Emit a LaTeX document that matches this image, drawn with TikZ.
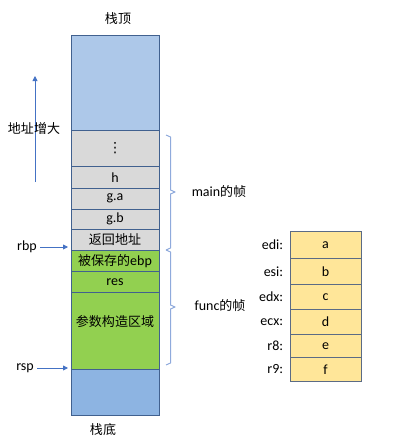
\documentclass[tikz,border=0pt]{standalone}
\usepackage{fontspec}
\setmainfont{Carlito}
\newfontfamily\cjk{Noto Sans CJK SC}[Scale=0.93]
\newfontfamily\symfont{DejaVu Sans}
\usetikzlibrary{arrows.meta}

\definecolor{stacktop}{HTML}{ADC8E9}
\definecolor{stackbottom}{HTML}{8DB4E2}
\definecolor{cellgray}{HTML}{D9D9D9}
\definecolor{cellgreen}{HTML}{92D050}
\definecolor{regyellow}{HTML}{FFE699}
\definecolor{edgeblue}{HTML}{41618F}
\definecolor{edgegray}{HTML}{5B6B85}
\definecolor{arrowblue}{HTML}{4472C4}
\definecolor{braceblue}{HTML}{8FAADC}

\tikzset{
  cell/.style={draw=edgeblue, line width=0.6pt, minimum width=88pt,
    inner sep=0pt, anchor=north},
  regcell/.style={draw=edgegray, line width=0.6pt, fill=regyellow,
    minimum width=71pt, inner sep=0pt, anchor=north},
  ptr/.style={arrowblue, line width=0.8pt, -{Triangle[length=5pt,width=5pt]}},
  framebrace/.style={braceblue, line width=1pt, line join=round}
}

\begin{document}
\begin{tikzpicture}[x=1pt,y=-1pt,font=\fontsize{14}{16}\selectfont]
    \useasboundingbox (0,0) rectangle (408,444);

    % Stack
    \node[cell, fill=stacktop, minimum height=95pt] (stacktop) at (115,35) {};
    \node[cell, fill=cellgray, minimum height=36pt] (dots) at (115,130) {\symfont ⋮};
    \node[cell, fill=cellgray, minimum height=22pt] (h) at (115,166) {h};
    \node[cell, fill=cellgray, minimum height=21pt] (ga) at (115,188) {g.a};
    \node[cell, fill=cellgray, minimum height=20pt] (gb) at (115,209) {g.b};
    \node[cell, fill=cellgray, minimum height=21pt] (ret) at (115,229) {\cjk 返回地址};
    \node[cell, fill=cellgreen, minimum height=21pt] (ebp) at (115,250) {{\cjk 被保存的}ebp};
    \node[cell, fill=cellgreen, minimum height=21pt] (res) at (115,271) {res};
    \node[cell, fill=cellgreen, minimum height=77pt] (args) at (115,292) {};
    \node (argstext) at (115,322) {\cjk 参数构造区域};
    \node[cell, fill=stackbottom, minimum height=46pt] (stackbottom) at (115,369) {};

    \node (toplabel) at (118,19) {\cjk 栈顶};
    \node (bottomlabel) at (103,430) {\cjk 栈底};

    % Address direction
    \coordinate (addrlow) at (35,182);
    \coordinate (addrhigh) at (35,76);
    \draw[ptr] (addrlow) -- (addrhigh);
    \node (grow) at (34,129) {\cjk 地址增大};

    % Registers rbp and rsp
    \node (rbp) at (27,247) {rbp};
    \coordinate (rbptip) at (68,247);
    \draw[ptr] (rbp.east) -- (rbptip);
    \node (rsp) at (25,368) {rsp};
    \coordinate (rsptip) at (68,368);
    \draw[ptr] (rsp.east) -- (rsptip);

    % Frames
    \draw[framebrace] (166,135) -- (170.5,137) -- (170.5,190) -- (175,192)
        -- (170.5,194) -- (170.5,248) -- (166,250);
    \node (mainframe) at (219,192) {main{\cjk 的帧}};
    \draw[framebrace] (166,250) -- (170.5,252) -- (170.5,305) -- (175,307)
        -- (170.5,309) -- (170.5,363) -- (166,365);
    \node (funcframe) at (220,306) {func{\cjk 的帧}};

    % Argument registers
    \foreach \r/\v/\t/\h in {edi/a/231/27, esi/b/258/26, edx/c/284/25,
        ecx/d/309/25, r8/e/334/23, r9/f/357/24} {
      \node[regcell, minimum height=\h pt] (val\v) at (325.5,\t) {\v};
      \node[anchor=east] (reg\v) at ([xshift=-3pt]val\v.west) {\r:};
    }
\end{tikzpicture}
\end{document}
